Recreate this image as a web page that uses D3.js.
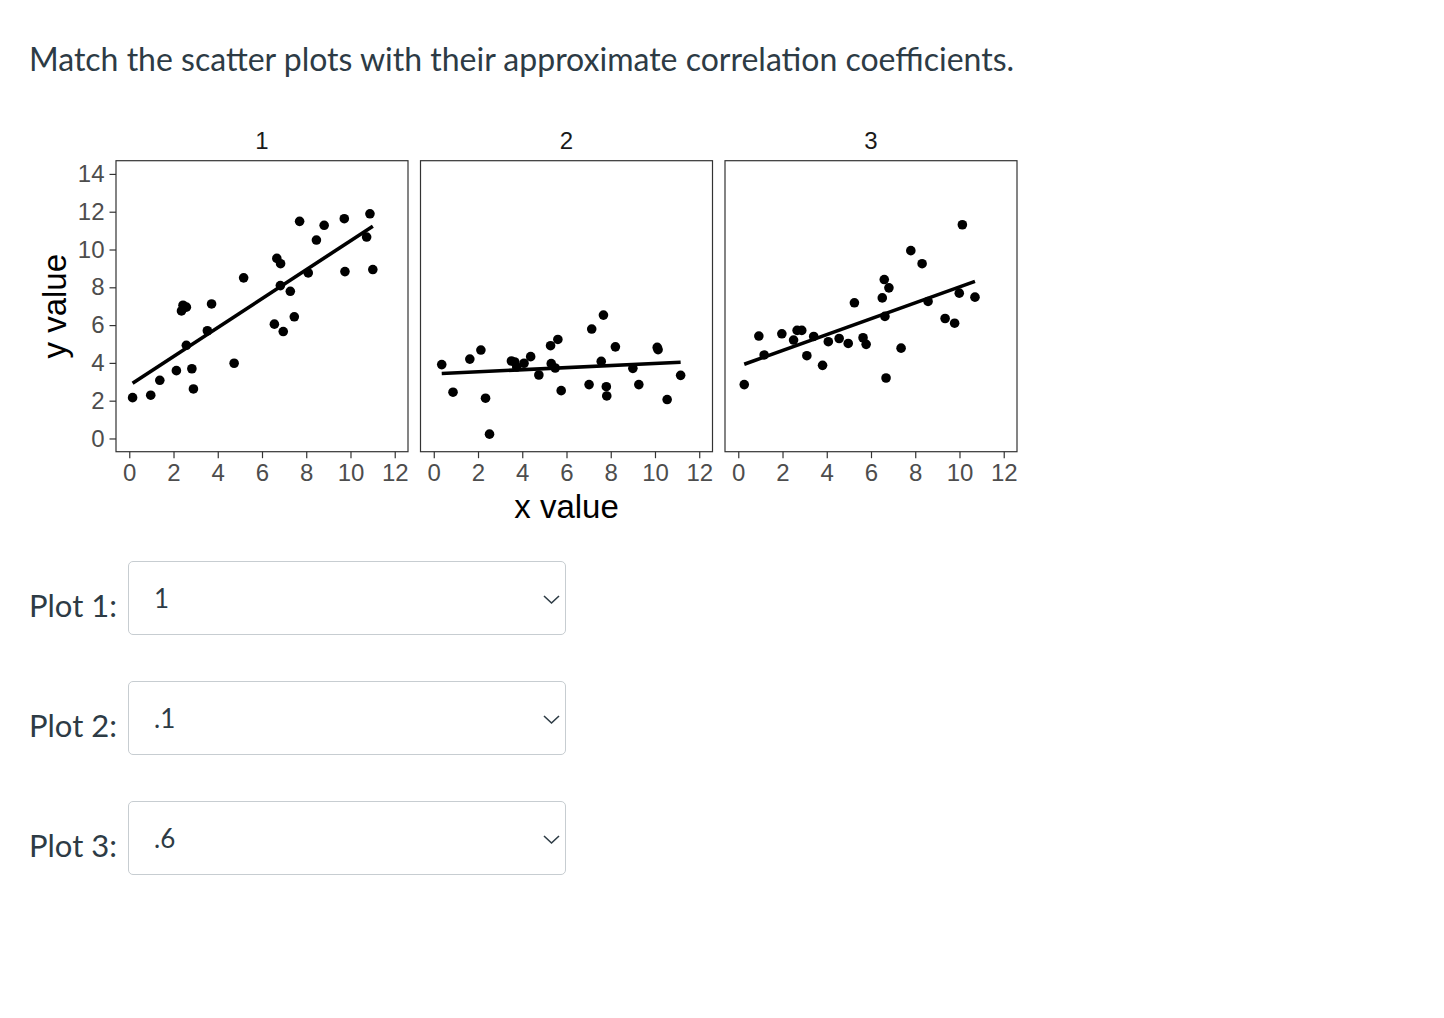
<!DOCTYPE html>
<html>
<head>
<meta charset="utf-8">
<script src="https://cdn.jsdelivr.net/npm/d3@7"></script>
<style>
  html, body { margin: 0; padding: 0; background: #fff; }
  body { width: 1444px; height: 1018px; position: relative; overflow: hidden; font-family: Lato, "Open Sans", sans-serif; color: #2d3b45; }
  .title { position: absolute; left: 29px; top: 39px; font-size: 32px; white-space: nowrap; }
  .label { position: absolute; left: 29px; font-size: 31px; white-space: nowrap; }
  .box { position: absolute; left: 128px; width: 436px; height: 72px; border: 1px solid #c7cdd1; border-radius: 5px; box-sizing: content-box; }
  .val { position: absolute; left: 25px; top: 20px; font-size: 26px; }
  svg.main { position: absolute; left: 0; top: 0; }
</style>
</head>
<body>
<div class="title">Match the scatter plots with their approximate correlation coefficients.</div>
<svg class="main" width="1444" height="1018"></svg>
<script>
// ---- data ----
const panelLabels = ["1", "2", "3"];
const xTicks = [0, 2, 4, 6, 8, 10, 12];
const yTicks = [0, 2, 4, 6, 8, 10, 12, 14];

const x1 = [0.15,0.97,1.38,2.13,2.36,2.43,2.58,2.58,2.83,2.90,3.53,3.72,4.74,5.17,6.56,6.67,6.84,6.83,6.96,7.28,7.46,7.70,8.09,8.46,8.81,9.72,9.75,10.73,10.88,11.01];
const y1 = [2.16,2.29,3.08,3.59,6.75,7.05,6.95,4.93,3.69,2.62,5.70,7.12,3.98,8.50,6.05,9.53,9.25,8.09,5.66,7.79,6.44,11.49,8.76,10.50,11.28,11.63,8.83,10.66,11.89,8.94];

const x2 = [0.36,0.87,1.63,2.13,2.34,2.52,3.51,3.66,3.75,4.08,4.38,4.75,5.28,5.31,5.49,5.61,5.76,7.02,7.14,7.57,7.67,7.80,7.82,8.21,9.00,9.27,10.10,10.14,10.55,11.16];
const y2 = [3.91,2.45,4.20,4.68,2.13,0.23,4.10,4.05,3.78,3.98,4.33,3.36,4.91,3.96,3.73,5.24,2.53,2.85,5.79,4.08,6.53,2.74,2.25,4.85,3.71,2.85,4.82,4.70,2.06,3.34];

const x3 = [0.27,0.93,1.17,1.97,2.50,2.66,2.87,3.10,3.41,3.81,4.07,4.56,4.97,5.25,5.64,5.78,6.51,6.60,6.63,6.68,6.81,7.36,7.80,8.31,8.58,9.35,9.78,9.99,10.13,10.70];
const y3 = [2.85,5.42,4.42,5.54,5.21,5.72,5.72,4.38,5.40,3.87,5.12,5.29,5.03,7.18,5.33,4.98,7.44,8.41,6.46,3.20,7.97,4.78,9.94,9.25,7.25,6.35,6.10,7.69,11.31,7.48];

const xsData = [x1, x2, x3];
const ysData = [y1, y2, y3];

const dropLabels = ["Plot 1:", "Plot 2:", "Plot 3:"];
const dropValues = ["1", ".1", ".6"];

// ---- layout ----
const svg = d3.select("svg.main");
const panelLeft0 = 116, panelStep = 304.5, panelW = 292;
const panelTop = 160.7, panelH = 291;
const x = d3.scaleLinear().domain([-0.6, 12.6]).range([0, panelW]);
const y = d3.scaleLinear().domain([-0.7, 14.7]).range([panelH, 0]);
const tickFont = "'Liberation Sans', Arial, Helvetica, sans-serif";

function fit(xs, ys) {
  const mx = d3.mean(xs), my = d3.mean(ys);
  let sxy = 0, sxx = 0;
  xs.forEach((v, i) => { sxy += (v - mx) * (ys[i] - my); sxx += (v - mx) * (v - mx); });
  const b = sxy / sxx, a = my - b * mx;
  const lo = d3.min(xs), hi = d3.max(xs);
  return [[lo, a + b * lo], [hi, a + b * hi]];
}

panelLabels.forEach((lab, p) => {
  const g = svg.append("g").attr("transform", `translate(${panelLeft0 + p * panelStep},${panelTop})`);
  const xs = xsData[p], ys = ysData[p];
  const pts = xs.map((v, i) => [v, ys[i]]);

  // points
  g.selectAll("circle").data(pts).join("circle")
    .attr("cx", d => x(d[0])).attr("cy", d => y(d[1])).attr("r", 4.8).attr("fill", "#000");

  // regression line
  g.append("path").datum(fit(xs, ys))
    .attr("d", d3.line().x(d => x(d[0])).y(d => y(d[1])))
    .attr("stroke", "#000").attr("stroke-width", 3.6).attr("fill", "none");

  // frame
  g.append("rect").attr("x", 0).attr("y", 0).attr("width", panelW).attr("height", panelH)
    .attr("fill", "none").attr("stroke", "#333").attr("stroke-width", 1.2);

  // x axis
  const xa = g.append("g").attr("transform", `translate(0,${panelH})`)
    .call(d3.axisBottom(x).tickValues(xTicks).tickSize(6.5).tickPadding(6).tickFormat(d3.format("d")));
  xa.select(".domain").remove();
  xa.selectAll("line").attr("stroke", "#333").attr("stroke-width", 1.2);
  xa.selectAll("text").attr("fill", "#4d4d4d").attr("font-size", 24).attr("font-family", tickFont);

  if (p === 0) {
    const ya = g.append("g")
      .call(d3.axisLeft(y).tickValues(yTicks).tickSize(6.5).tickPadding(5).tickFormat(d3.format("d")));
    ya.select(".domain").remove();
    ya.selectAll("line").attr("stroke", "#333").attr("stroke-width", 1.2);
    ya.selectAll("text").attr("fill", "#4d4d4d").attr("font-size", 24).attr("font-family", tickFont);
  }

  // strip label
  g.append("text").attr("x", panelW / 2).attr("y", -12).attr("text-anchor", "middle")
    .attr("font-family", tickFont).attr("font-size", 24).attr("fill", "#1a1a1a").text(lab);
});

// axis titles
svg.append("text").attr("x", panelLeft0 + panelStep + panelW / 2).attr("y", 518)
  .attr("text-anchor", "middle").attr("font-family", tickFont).attr("font-size", 33).attr("fill", "#000").text("x value");
svg.append("text").attr("transform", `translate(66,${panelTop + panelH / 2}) rotate(-90)`)
  .attr("text-anchor", "middle").attr("font-family", tickFont).attr("font-size", 33).attr("fill", "#000").text("y value");

// dropdown rows
const body = d3.select("body");
dropLabels.forEach((lab, i) => {
  const top = 561 + i * 120;
  body.append("div").attr("class", "label").style("top", (top + 25) + "px").text(lab);
  const box = body.append("div").attr("class", "box").style("top", top + "px");
  box.append("div").attr("class", "val").text(dropValues[i]);
  const chev = box.append("svg").attr("width", 20).attr("height", 12)
    .style("position", "absolute").style("left", "413px").style("top", "32px");
  chev.append("path").attr("d", "M2,2 L9.5,9 L17,2").attr("fill", "none")
    .attr("stroke", "#2d3b45").attr("stroke-width", 1.6);
});
</script>
</body>
</html>
